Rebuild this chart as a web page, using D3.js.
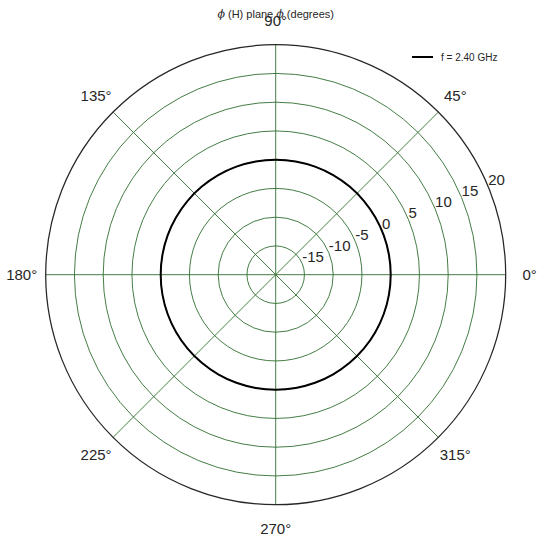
<!DOCTYPE html>
<html>
<head>
<meta charset="utf-8">
<script src="https://cdn.jsdelivr.net/npm/d3@7"></script>
<style>
	body { margin: 0; background: #fff; }
	text { font-family: "Liberation Sans", Arial, sans-serif; fill: #262626; }
</style>
</head>
<body>
<div id="chart"></div>
<script>
var gridAngles = [0, 45, 90, 135, 180, 225, 270, 315];
var angleLabels = ["0°", "45°", "90°", "135°", "180°", "225°", "270°", "315°"];
var radialTicks = [-15, -10, -5, 0, 5, 10, 15, 20];
var radialDomain = [-20, 20];
var phiDeg = [0, 10, 20, 30, 40, 50, 60, 70, 80, 90, 100, 110, 120, 130, 140, 150, 160, 170,
	180, 190, 200, 210, 220, 230, 240, 250, 260, 270, 280, 290, 300, 310, 320, 330, 340, 350];
var gainDb = [0, 0, 0, 0, 0, 0, 0, 0, 0, 0, 0, 0, 0, 0, 0, 0, 0, 0,
	0, 0, 0, 0, 0, 0, 0, 0, 0, 0, 0, 0, 0, 0, 0, 0, 0, 0];
var seriesName = "f = 2.40 GHz";

function draw_chart() {
	var w = 543;
	var h = 543;
	var cx = 275.7;
	var cy = 274.7;
	var R = 230;

	var svg = d3.select("#chart")
				.append("svg")
				.attr("width", w)
				.attr("height", h);

	var r = d3.scaleLinear()
			  .domain(radialDomain)
			  .range([0, R]);

	var g = svg.append("g")
			   .attr("transform", "translate(" + cx + "," + cy + ")");

	// screen position for a polar angle (deg, ccw from east) and radius
	function pos(deg, rad) {
		var a = deg * Math.PI / 180;
		return [rad * Math.cos(a), -rad * Math.sin(a)];
	}

	var gridColor = "#2f6e2f";

	// rings
	g.selectAll("circle.ring")
		.data(radialTicks.filter(d => d < radialDomain[1]))
		.enter()
		.append("circle")
		.attr("class", "ring")
		.attr("r", d => r(d))
		.attr("fill", "none")
		.attr("stroke", gridColor)
		.attr("stroke-width", 0.9);

	// spokes
	g.selectAll("line.spoke")
		.data(gridAngles)
		.enter()
		.append("line")
		.attr("class", "spoke")
		.attr("x1", 0)
		.attr("y1", 0)
		.attr("x2", d => pos(d, R)[0])
		.attr("y2", d => pos(d, R)[1])
		.attr("stroke", gridColor)
		.attr("stroke-width", 0.9);

	// outer frame
	g.append("circle")
		.attr("r", r(radialDomain[1]))
		.attr("fill", "none")
		.attr("stroke", "#262626")
		.attr("stroke-width", 1.25);

	// radial tick labels along 22.5 deg
	g.selectAll("text.rtick")
		.data(radialTicks)
		.enter()
		.append("text")
		.attr("class", "rtick")
		.attr("x", d => pos(22.5, r(d))[0])
		.attr("y", d => pos(22.5, r(d))[1] - 2)
		.attr("font-size", 15)
		.attr("text-anchor", "start")
		.text(d => d);

	// angle labels
	g.selectAll("text.atick")
		.data(gridAngles)
		.enter()
		.append("text")
		.attr("class", "atick")
		.attr("x", d => pos(d, R + 24)[0])
		.attr("y", d => pos(d, R + 24)[1])
		.attr("font-size", 15)
		.attr("text-anchor", "middle")
		.attr("dominant-baseline", "central")
		.text((d, i) => angleLabels[i]);

	// pattern
	var pts = phiDeg.map((p, i) => [p, gainDb[i]]);
	var line = d3.lineRadial()
				 .angle(d => (90 - d[0]) * Math.PI / 180)
				 .radius(d => r(d[1]))
				 .curve(d3.curveCatmullRomClosed);

	g.append("path")
		.datum(pts)
		.attr("d", line)
		.attr("fill", "none")
		.attr("stroke", "#000")
		.attr("stroke-width", 2);

	// title
	var title = svg.append("text")
				   .attr("x", cx)
				   .attr("y", 14)
				   .attr("text-anchor", "middle")
				   .attr("dominant-baseline", "central")
				   .attr("font-size", 11);
	title.append("tspan").attr("font-style", "italic").attr("font-family", "DejaVu Serif").text("ϕ");
	title.append("tspan").text(" (H) plane ");
	title.append("tspan").attr("font-style", "italic").attr("font-family", "DejaVu Serif").text("ϕ");
	title.append("tspan").text(" (degrees)");

	// legend
	svg.append("line")
		.attr("x1", 412)
		.attr("x2", 433)
		.attr("y1", 57)
		.attr("y2", 57)
		.attr("stroke", "#000")
		.attr("stroke-width", 2);
	svg.append("text")
		.attr("x", 441)
		.attr("y", 57)
		.attr("font-size", 10)
		.attr("dominant-baseline", "central")
		.text(seriesName);
}

draw_chart();
</script>
</body>
</html>
